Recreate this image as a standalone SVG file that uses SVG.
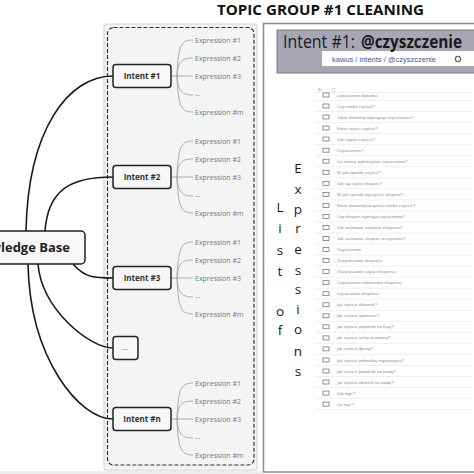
<svg xmlns="http://www.w3.org/2000/svg" width="474" height="474" viewBox="0 0 474 474">
<style>
.title{font-family:"Open Sans","Liberation Sans",sans-serif;font-weight:bold;fill:#111}
.node{fill:#f7f7f7;stroke:#222;stroke-width:1.5}
.ntext{font-family:"Open Sans","Liberation Sans",sans-serif;font-weight:bold;font-size:8px;fill:#333;text-anchor:middle}
.expr{font-family:"Open Sans","Liberation Sans",sans-serif;font-size:7px;fill:#777}
.br{fill:none;stroke:#9a9a9a;stroke-width:0.8}
.conn{fill:none;stroke:#1a1a1a;stroke-width:1.6}
.row{font-family:"Liberation Sans",sans-serif;font-size:4.3px;fill:#8a8a8a}
.cb{fill:#fff;stroke:#666;stroke-width:0.7}
.sep{stroke:#e4e4e4;stroke-width:0.6}
.vl{font-family:"Open Sans","Liberation Sans",sans-serif;font-size:13.5px;fill:#1a1a1a;text-anchor:middle}
</style>
<rect width="474" height="474" fill="#fff"/>
<rect x="0" y="471" width="262" height="3" fill="#ececec"/>
<text class="title" x="320.5" y="15" font-size="15" textLength="207" lengthAdjust="spacingAndGlyphs" text-anchor="middle">TOPIC GROUP #1 CLEANING</text>

<g id="left-panel">
<rect x="104" y="24" width="153" height="446" rx="3" fill="#f4f4f4" stroke="#c3d9e6" stroke-width="1.2"/>
<rect x="107.5" y="27.5" width="146.5" height="437.5" rx="6" fill="#f4f4f4" stroke="#333" stroke-width="1.2" stroke-dasharray="4 2"/>
</g>

<g id="connectors">
<path class="conn" d="M26 231 C28 130 68 76 113 76"/>
<path class="conn" d="M45 231 C48 190 70 177 113 177"/>
<path class="conn" d="M73 264 C85 278 95 278 113 278"/>
<path class="conn" d="M38 264 C42 310 90 348 113 348"/>
<path class="conn" d="M28 264 C30 360 80 419 113 419"/>
<g id="branches">
<path class="br" d="M171 76 H193 M177 76 C178 44 182 40 193 40 M177 76 C178 61 182 58 193 58 M177 76 C178 91 182 95 193 95 M177 76 C178 108 182 112 193 112"/>
<path class="br" d="M171 177 H193 M177 177 C178 145 182 141 193 141 M177 177 C178 162 182 159 193 159 M177 177 C178 192 182 196 193 196 M177 177 C178 209 182 213 193 213"/>
<path class="br" d="M171 278 H193 M177 278 C178 246 182 242 193 242 M177 278 C178 263 182 260 193 260 M177 278 C178 293 182 297 193 297 M177 278 C178 310 182 314 193 314"/>
<path class="br" d="M171 419 H193 M177 419 C178 387 182 383 193 383 M177 419 C178 404 182 401 193 401 M177 419 C178 434 182 438 193 438 M177 419 C178 451 182 455 193 455"/>
</g>
</g>

<g id="knowledge-base">
<rect class="node" x="-20" y="231" width="105" height="33" rx="4" fill="#fff"/>
<text x="70" y="252" text-anchor="end" font-family="Open Sans, Liberation Sans, sans-serif" font-weight="bold" font-size="13" fill="#222">Knowledge Base</text>
</g>

<g id="intent-1">
<rect class="node" x="113" y="64.5" width="58" height="23" rx="3"/>
<text class="ntext" x="142" y="79">Intent #1</text>
<text class="expr" x="195" y="42.5">Expression #1</text>
<text class="expr" x="195" y="60.5">Expression #2</text>
<text class="expr" x="195" y="78.5">Expression #3</text>
<text class="expr" x="195" y="96">...</text>
<text class="expr" x="195" y="114.5">Expression #m</text>
</g>
<g id="intent-2">
<rect class="node" x="113" y="165.5" width="58" height="23" rx="3"/>
<text class="ntext" x="142" y="180">Intent #2</text>
<text class="expr" x="195" y="143.5">Expression #1</text>
<text class="expr" x="195" y="161.5">Expression #2</text>
<text class="expr" x="195" y="179.5">Expression #3</text>
<text class="expr" x="195" y="197">...</text>
<text class="expr" x="195" y="215.5">Expression #m</text>
</g>
<g id="intent-3">
<rect class="node" x="113" y="266.5" width="58" height="23" rx="3"/>
<text class="ntext" x="142" y="281">Intent #3</text>
<text class="expr" x="195" y="244.5">Expression #1</text>
<text class="expr" x="195" y="262.5">Expression #2</text>
<text class="expr" x="195" y="280.5">Expression #3</text>
<text class="expr" x="195" y="298">...</text>
<text class="expr" x="195" y="316.5">Expression #m</text>
</g>
<g id="intent-dots">
<rect class="node" x="113" y="336.5" width="25" height="23" rx="3"/>
<text x="125.5" y="350" text-anchor="middle" font-family="Open Sans, sans-serif" font-size="7" fill="#666">...</text>
</g>
<g id="intent-n">
<rect class="node" x="113" y="407.5" width="58" height="23" rx="3"/>
<text class="ntext" x="142" y="422">Intent #n</text>
<text class="expr" x="195" y="385.5">Expression #1</text>
<text class="expr" x="195" y="403.5">Expression #2</text>
<text class="expr" x="195" y="421.5">Expression #3</text>
<text class="expr" x="195" y="439">...</text>
<text class="expr" x="195" y="457.5">Expression #m</text>
</g>

<g id="right-panel">
<rect x="263.5" y="23.5" width="215" height="448.5" fill="#fff" stroke="#8c8c8c" stroke-width="1.5"/>
<rect x="277" y="30" width="200" height="43" fill="#a7a7b4" stroke="#7a7a86" stroke-width="1"/>
<rect x="322" y="51" width="155" height="15" fill="#fff"/>
<text x="283" y="48" font-family="Open Sans, Liberation Sans, sans-serif" font-size="18" fill="#1a1a1a" textLength="72" lengthAdjust="spacingAndGlyphs">Intent #1:</text>
<text x="361" y="48" font-family="Open Sans, Liberation Sans, sans-serif" font-size="18" font-weight="bold" fill="#1a1a1a" textLength="101" lengthAdjust="spacingAndGlyphs">@czyszczenie</text>
<text x="332" y="62" font-family="Liberation Sans, sans-serif" font-size="7.5" fill="#3b5a9a">kawus / intents / @czyszczenie</text>
<circle cx="458" cy="59" r="2.6" fill="none" stroke="#666" stroke-width="1.3"/>
<text x="318" y="91" font-family="Liberation Sans, sans-serif" font-size="3.5" fill="#aaa">Az</text>
<rect x="332" y="88.5" width="3" height="3" fill="none" stroke="#bbb" stroke-width="0.5"/>
<line class="sep" x1="315" y1="92.5" x2="472" y2="92.5"/>
</g>

<g id="expression-list">
<g class="cbs">
<rect class="cb" x="323" y="93" width="6" height="4"/><rect class="cb" x="323" y="104" width="6" height="4"/><rect class="cb" x="323" y="115" width="6" height="4"/><rect class="cb" x="323" y="126" width="6" height="4"/><rect class="cb" x="323" y="137" width="6" height="4"/><rect class="cb" x="323" y="148.2" width="6" height="4"/><rect class="cb" x="323" y="159.2" width="6" height="4"/><rect class="cb" x="323" y="170.3" width="6" height="4"/><rect class="cb" x="323" y="181.3" width="6" height="4"/><rect class="cb" x="323" y="192.4" width="6" height="4"/><rect class="cb" x="323" y="203.4" width="6" height="4"/><rect class="cb" x="323" y="214.4" width="6" height="4"/><rect class="cb" x="323" y="225.5" width="6" height="4"/><rect class="cb" x="323" y="236.5" width="6" height="4"/><rect class="cb" x="323" y="247.6" width="6" height="4"/><rect class="cb" x="323" y="258.6" width="6" height="4"/><rect class="cb" x="323" y="269.6" width="6" height="4"/><rect class="cb" x="323" y="280.7" width="6" height="4"/><rect class="cb" x="323" y="291.7" width="6" height="4"/><rect class="cb" x="323" y="302.8" width="6" height="4"/><rect class="cb" x="323" y="313.8" width="6" height="4"/><rect class="cb" x="323" y="324.8" width="6" height="4"/><rect class="cb" x="323" y="335.9" width="6" height="4"/><rect class="cb" x="323" y="346.9" width="6" height="4"/><rect class="cb" x="323" y="358" width="6" height="4"/><rect class="cb" x="323" y="369" width="6" height="4"/><rect class="cb" x="323" y="380" width="6" height="4"/><rect class="cb" x="323" y="391.1" width="6" height="4"/><rect class="cb" x="323" y="402.1" width="6" height="4"/>
</g>
<g class="seps">
<line class="sep" x1="315" y1="100.5" x2="472" y2="100.5"/><line class="sep" x1="315" y1="111.5" x2="472" y2="111.5"/><line class="sep" x1="315" y1="122.5" x2="472" y2="122.5"/><line class="sep" x1="315" y1="133.5" x2="472" y2="133.5"/><line class="sep" x1="315" y1="144.7" x2="472" y2="144.7"/><line class="sep" x1="315" y1="155.7" x2="472" y2="155.7"/><line class="sep" x1="315" y1="166.7" x2="472" y2="166.7"/><line class="sep" x1="315" y1="177.8" x2="472" y2="177.8"/><line class="sep" x1="315" y1="188.8" x2="472" y2="188.8"/><line class="sep" x1="315" y1="199.9" x2="472" y2="199.9"/><line class="sep" x1="315" y1="210.9" x2="472" y2="210.9"/><line class="sep" x1="315" y1="221.9" x2="472" y2="221.9"/><line class="sep" x1="315" y1="233" x2="472" y2="233"/><line class="sep" x1="315" y1="244" x2="472" y2="244"/><line class="sep" x1="315" y1="255.1" x2="472" y2="255.1"/><line class="sep" x1="315" y1="266.1" x2="472" y2="266.1"/><line class="sep" x1="315" y1="277.1" x2="472" y2="277.1"/><line class="sep" x1="315" y1="288.2" x2="472" y2="288.2"/><line class="sep" x1="315" y1="299.2" x2="472" y2="299.2"/><line class="sep" x1="315" y1="310.3" x2="472" y2="310.3"/><line class="sep" x1="315" y1="321.3" x2="472" y2="321.3"/><line class="sep" x1="315" y1="332.3" x2="472" y2="332.3"/><line class="sep" x1="315" y1="343.4" x2="472" y2="343.4"/><line class="sep" x1="315" y1="354.4" x2="472" y2="354.4"/><line class="sep" x1="315" y1="365.5" x2="472" y2="365.5"/><line class="sep" x1="315" y1="376.5" x2="472" y2="376.5"/><line class="sep" x1="315" y1="387.5" x2="472" y2="387.5"/><line class="sep" x1="315" y1="398.6" x2="472" y2="398.6"/><line class="sep" x1="315" y1="409.6" x2="472" y2="409.6"/>
</g>
<text class="row" x="337" y="96.5">czyszczenie dzbanka</text>
<text class="row" x="337" y="107.5">Czy trzeba czyścić?</text>
<text class="row" x="337" y="118.5">Jakie elementy wymagają czyszczenia?</text>
<text class="row" x="337" y="129.5">Które części czyścić?</text>
<text class="row" x="337" y="140.5">Jak często czyścić?</text>
<text class="row" x="337" y="151.7">Czyszczenie?</text>
<text class="row" x="337" y="162.7">Co należy wykorzystać czyszczenie?</text>
<text class="row" x="337" y="173.8">W jaki sposób czyścić?</text>
<text class="row" x="337" y="184.8">Jak się czyści ekspres?</text>
<text class="row" x="337" y="195.9">W jaki sposób wyczyścić ekspres?</text>
<text class="row" x="337" y="206.9">Które elementy ekspresu trzeba czyścić?</text>
<text class="row" x="337" y="217.9">Czy ekspres wymaga czyszczenia?</text>
<text class="row" x="337" y="229">Jak zachować czystość ekspresu?</text>
<text class="row" x="337" y="240">Jak zachować ekspres w czystości?</text>
<text class="row" x="337" y="251.1">Czyszczenie</text>
<text class="row" x="337" y="262.1">Oczyszczanie ekspresu</text>
<text class="row" x="337" y="273.1">Oczyszczanie części ekspresu</text>
<text class="row" x="337" y="284.2">Czyszczenie elementów ekspresu</text>
<text class="row" x="337" y="295.2">czyszczenie ekspresu</text>
<text class="row" x="337" y="306.3">jak czyścić dzbanek?</text>
<text class="row" x="337" y="317.3">jak czyścić spieniacz?</text>
<text class="row" x="337" y="328.3">jak czyścić pojemnik na fusy?</text>
<text class="row" x="337" y="339.4">jak czyścić tackę ociekową?</text>
<text class="row" x="337" y="350.4">jak czyścić dyszę?</text>
<text class="row" x="337" y="361.5">jak czyścić jednostkę zaparzającą?</text>
<text class="row" x="337" y="372.5">jak czyścić pojemnik na kawę?</text>
<text class="row" x="337" y="383.5">jak czyścić zbiornik na wodę?</text>
<text class="row" x="337" y="394.6">Jak myć?</text>
<text class="row" x="337" y="405.6">Co myć?</text>
</g>

<g id="vertical-labels">
<text class="vl" x="280" y="212">L</text>
<text class="vl" x="280" y="233">i</text>
<text class="vl" x="280" y="255">s</text>
<text class="vl" x="280" y="276">t</text>
<text class="vl" x="280" y="316">o</text>
<text class="vl" x="280" y="335">f</text>
<text class="vl" x="298" y="173">E</text>
<text class="vl" x="298" y="194">x</text>
<text class="vl" x="298" y="214">p</text>
<text class="vl" x="298" y="233">r</text>
<text class="vl" x="298" y="254">e</text>
<text class="vl" x="298" y="275">s</text>
<text class="vl" x="298" y="294">s</text>
<text class="vl" x="298" y="314">i</text>
<text class="vl" x="298" y="334">o</text>
<text class="vl" x="298" y="356">n</text>
<text class="vl" x="298" y="376">s</text>
</g>
</svg>
